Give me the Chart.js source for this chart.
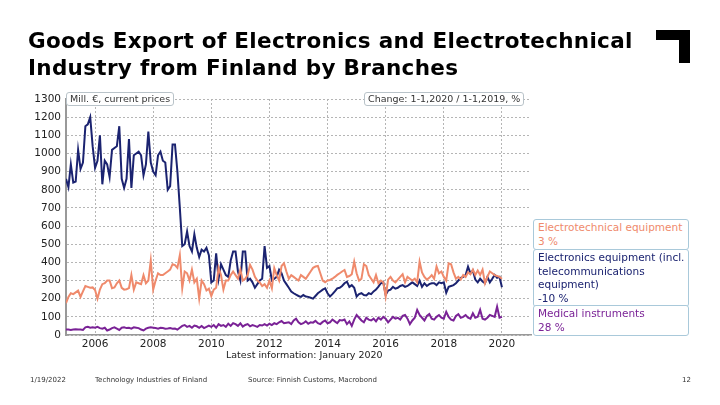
<!DOCTYPE html>
<html>
<head>
<meta charset="utf-8">
<script src="https://cdn.jsdelivr.net/npm/chart.js@4.4.1/dist/chart.umd.min.js"></script>
<style>
  html, body { margin:0; padding:0; background:#fff; }
  #wrap { position:relative; width:720px; height:405px; overflow:hidden; font-family:"DejaVu Sans", Verdana, sans-serif; }
  #c { position:absolute; left:0; top:0; }
  .title { position:absolute; left:28px; top:27px; font-weight:bold; font-size:21.5px; line-height:27px; color:#000; letter-spacing:0.3px; white-space:nowrap; }
  .logo1 { position:absolute; left:656px; top:30px; width:34px; height:10px; background:#000; }
  .logo2 { position:absolute; left:679px; top:30px; width:11px; height:33px; background:#000; }
  .note { position:absolute; background:#fff; border:1px solid #b9c3c9; border-radius:3px; font-size:9.5px; color:#333; padding:0 3px; line-height:12px; white-space:nowrap; }
  .lab { position:absolute; left:533px; width:146px; background:#fff; border:1px solid #a9c9da; border-radius:3px; font-size:10.5px; line-height:13.5px; padding:1px 4px; white-space:nowrap; }
  .latest { position:absolute; left:226px; top:349px; font-size:9.5px; color:#222; }
  .foot { position:absolute; top:376px; font-size:7px; color:#333; }
</style>
</head>
<body>
<div id="wrap">
  <canvas id="c" width="720" height="405"></canvas>
  <div class="title">Goods Export of Electronics and Electrotechnical<br>Industry from Finland by Branches</div>
  <div class="logo1"></div><div class="logo2"></div>
  <div class="note" style="left:66px; top:92px;">Mill. €, current prices</div>
  <div class="note" style="left:364px; top:92px;">Change: 1-1,2020 / 1-1,2019, %</div>
  <div class="lab" style="top:219px; color:#ef8a6c;">Electrotechnical equipment<br>3 %</div>
  <div class="lab" style="top:249px; color:#1b2370;">Electronics equipment (incl.<br>telecommunications<br>equipment)<br>-10 %</div>
  <div class="lab" style="top:305px; color:#7a2296;">Medical instruments<br>28 %</div>
  <div class="latest">Latest information: January 2020</div>
  <div class="foot" style="left:30px;">1/19/2022</div>
  <div class="foot" style="left:95px;">Technology Industries of Finland</div>
  <div class="foot" style="left:248px;">Source: Finnish Customs, Macrobond</div>
  <div class="foot" style="left:682px;">12</div>
</div>
<script>
// Monthly data, Jan 2005 – Jan 2020, mill. €
const startYear = 2005;
const yearTicks = [2006, 2008, 2010, 2012, 2014, 2016, 2018, 2020];
const yTickStep = 100;

const electronics = [
  860, 815, 940, 840, 845, 1020, 915, 950, 1150, 1160, 1200, 1040,
  920, 960, 1100, 830, 960, 940, 870, 1020, 1030, 1040, 1150, 860,
  810, 860, 1080, 810, 990, 1000, 1010, 990, 880, 940, 1120, 950,
  900, 880, 990, 1010, 960, 950, 800, 820, 1050, 1050, 900, 700,
  490, 500, 570, 490, 460, 555, 480, 430, 470, 460, 480, 440,
  290, 300, 450, 310, 390, 360, 330, 320, 410, 460, 460, 350,
  300, 460, 460, 300, 310, 290, 260, 280, 300, 310, 490, 370,
  380, 300, 310, 320, 360, 340, 300, 280, 260, 240, 230, 222,
  215, 210, 220, 212, 210, 205, 200, 215, 230, 240, 250, 257,
  230, 212, 225, 240, 257, 260, 270, 285, 294, 265, 275, 260,
  212, 225, 230, 220, 218, 230, 225, 240, 250, 267, 285, 290,
  221, 245, 250, 265, 255, 260, 270, 275, 265, 270, 280, 290,
  280, 270, 300, 265, 285, 270, 280, 285, 285, 275, 290, 285,
  290, 233, 265, 270, 275, 285, 300, 315, 320, 330, 376, 340,
  355, 305, 290, 310, 295, 285, 320, 290, 310, 331, 315, 320,
  263
];

const electrotechnical = [
  175, 210, 230, 225, 235, 245, 210, 240, 270, 265, 260, 262,
  248, 200, 250, 280, 285, 300, 300, 258, 262, 285, 300, 260,
  250, 252, 258, 330, 250, 290, 285, 280, 330, 285, 300, 410,
  250, 300, 340, 330, 330, 340, 350, 360, 390, 385, 370, 440,
  258, 350, 340, 300, 360, 290, 310, 200, 300, 280, 245, 255,
  215, 250, 260, 370, 330, 250, 300, 300, 330, 350, 330, 310,
  360, 300, 310, 330, 386, 360, 320, 300, 290, 270, 280, 260,
  300, 257, 368, 330, 300, 380, 395, 350, 310, 330, 320, 310,
  300, 330, 320, 310, 330, 350, 370, 377, 380, 340, 300, 290,
  300, 303, 310, 320, 331, 340, 350, 358, 320, 325, 335, 404,
  340, 300, 310, 390, 380, 330, 310, 290, 330, 285, 300, 290,
  212, 305, 320, 300, 290, 305, 320, 335, 290, 320, 310, 300,
  310, 290, 404, 345, 320, 305, 315, 330, 310, 377, 340, 350,
  320, 300, 395, 390, 345, 310, 320, 305, 330, 320, 345, 335,
  360, 330, 355, 330, 360, 285, 320, 350, 340, 330, 325, 320,
  310
];

const medical = [
  30, 30, 28, 30, 32, 30, 30, 28, 42, 45, 40, 42,
  40, 45, 38, 35, 40, 25, 30, 38, 42, 35, 28, 40,
  42, 38, 40, 35, 42, 40, 38, 30, 25, 35, 40, 42,
  40, 38, 35, 40, 38, 35, 36, 38, 35, 36, 30, 40,
  50, 55, 45, 50, 40, 52, 48, 40, 50, 38, 45, 52,
  45, 55, 40, 60, 50, 55, 45, 62, 50, 65, 60, 50,
  64, 46, 55, 60, 48, 55, 50, 45, 55, 52, 60, 52,
  62, 55, 65, 60, 70, 77, 65, 68, 70, 60, 80, 90,
  70, 60, 65, 75, 62, 70, 68, 78, 65, 60, 72, 80,
  65, 70, 85, 75, 65, 82, 80, 85, 60, 75, 50, 85,
  110, 95, 80, 70, 95, 85, 80, 90, 75, 95, 85, 100,
  90, 70, 85, 100, 90, 95, 85, 105, 110, 90, 60, 80,
  95, 138, 110, 95, 80, 105, 115, 90, 85, 100, 110, 95,
  90, 128, 100, 85, 80, 105, 115, 95, 100, 110, 95, 90,
  120, 95, 100, 138, 90, 85, 95, 110, 105, 100, 156, 95,
  100
];

const seriesNames = ['Electrotechnical equipment', 'Electronics equipment (incl. telecommunications equipment)', 'Medical instruments'];

const toPts = arr => arr.map((v, i) => ({ x: startYear + i / 12, y: v }));

new Chart(document.getElementById('c'), {
  type: 'line',
  data: {
    datasets: [
      { label: seriesNames[0], data: toPts(electrotechnical), borderColor: '#ef8a6c', borderWidth: 2, pointRadius: 0, tension: 0 },
      { label: seriesNames[2], data: toPts(medical), borderColor: '#7a2296', borderWidth: 2, pointRadius: 0, tension: 0 },
      { label: seriesNames[1], data: toPts(electronics), borderColor: '#1b2370', borderWidth: 2, pointRadius: 0, tension: 0 }
    ]
  },
  options: {
    responsive: false,
    animation: false,
    events: [],
    layout: { padding: { left: 0, right: 189, top: 99, bottom: 0 } },
    plugins: { legend: { display: false }, tooltip: { enabled: false }, title: { display: false } },
    scales: {
      x: {
        type: 'linear', min: 2005, max: 2021,
        afterBuildTicks: s => { s.ticks = yearTicks.map(v => ({ value: v })); },
        afterFit: s => { s.height = 70; },
        ticks: { callback: v => String(v), color: '#222', font: { family: 'DejaVu Sans', size: 10.5 }, padding: 3, maxRotation: 0, autoSkip: false },
        grid: { color: '#b5b5b5', lineWidth: 1, drawTicks: false },
        border: { color: '#999', width: 1.5, dash: [2, 2] }
      },
      y: {
        min: 0, max: 1300,
        ticks: { stepSize: yTickStep, callback: v => String(v), color: '#222', font: { family: 'DejaVu Sans', size: 10.5 }, padding: 5 },
        afterFit: s => { s.width = 66; },
        grid: { color: '#b5b5b5', lineWidth: 1, drawTicks: false },
        border: { color: '#999', width: 2, dash: [2, 2] }
      }
    }
  }
});
</script>
</body>
</html>
